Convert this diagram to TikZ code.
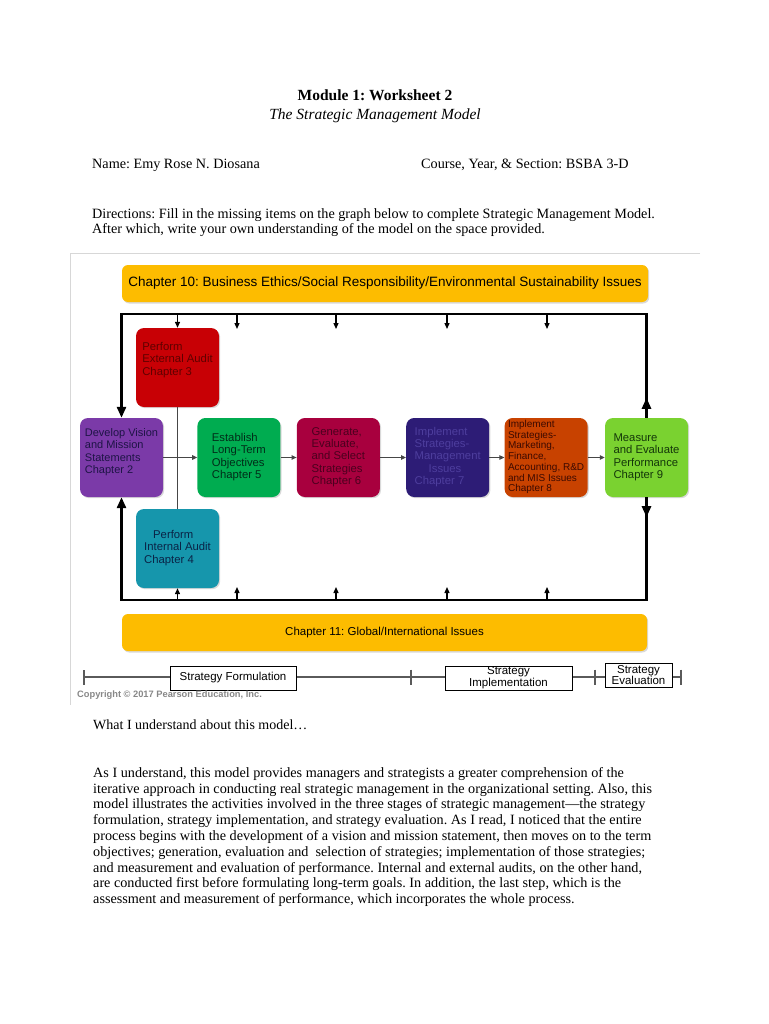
\documentclass[tikz,border=0pt]{standalone}
\usepackage{fontspec}
\setmainfont{Liberation Serif}
\newfontfamily\diagfont{Liberation Sans}
\frenchspacing
\usetikzlibrary{%
	arrows.meta,%
	positioning,%
	shadows,%
}
\tikzset{
	>=Triangle,%
	stage/.style={%
			rectangle,%
			rounded corners=8pt,%
			minimum width=83pt,%
			minimum height=79pt,%
			inner sep=0pt,%
			font={\diagfont\fontsize{11.3}{12.4}\selectfont},%
			drop shadow={opacity=0.3, shadow xshift=1.2pt, shadow yshift=-1.2pt}},%
	issuebar/.style={%
			rectangle,%
			rounded corners=6pt,%
			fill=cyellow,%
			minimum height=37pt,%
			inner sep=0pt,%
			font={\diagfont\fontsize{11.5}{13}\selectfont},%
			drop shadow={opacity=0.3, shadow xshift=1.2pt, shadow yshift=-1.5pt}},%
	phasebox/.style={%
			draw,%
			rectangle,%
			line width=0.9pt,%
			minimum height=24pt,%
			inner sep=0pt,%
			fill=white,%
			align=center,%
			font={\diagfont\fontsize{11.5}{11.7}\selectfont}},%
	loopline/.style={line width=2.6pt, black},%
	bigtip/.style={-{Triangle[length=11pt, width=9pt]}},%
	feed/.style={-{Triangle[length=6pt, width=5pt]}, line width=1.3pt, black},%
	flow/.style={-{Triangle[length=5pt, width=4.5pt]}, line width=1pt, cgrayarrow},%
	phase/.style={{Bar[width=15pt]}-{Bar[width=15pt]}, line width=1.6pt, cgrayline},%
	phasetick/.style={line width=1.6pt, cgrayline},%
	doctext/.style={inner sep=0pt, anchor=base west, font={\fontsize{14.2}{15.8}\selectfont}},%
}
\definecolor{cyellow}{RGB}{253, 188, 0}
\definecolor{cred}{RGB}{200, 0, 5}
\definecolor{credtext}{RGB}{95, 0, 0}
\definecolor{cpurple}{RGB}{123, 58, 168}
\definecolor{cpurpletext}{RGB}{30, 20, 70}
\definecolor{cgreen}{RGB}{0, 172, 80}
\definecolor{cgreentext}{RGB}{0, 45, 25}
\definecolor{ccrimson}{RGB}{168, 0, 62}
\definecolor{ccrimsontext}{RGB}{75, 0, 30}
\definecolor{cnavy}{RGB}{45, 28, 118}
\definecolor{cnavytext}{RGB}{78, 62, 158}
\definecolor{corange}{RGB}{200, 66, 0}
\definecolor{corangetext}{RGB}{60, 10, 0}
\definecolor{clime}{RGB}{122, 210, 48}
\definecolor{climetext}{RGB}{20, 55, 10}
\definecolor{cteal}{RGB}{22, 150, 172}
\definecolor{ctealtext}{RGB}{10, 35, 70}
\definecolor{cgrayarrow}{RGB}{70, 70, 70}
\definecolor{cgrayline}{RGB}{90, 90, 90}
\definecolor{cframe}{RGB}{215, 215, 215}
\definecolor{ccopy}{RGB}{135, 135, 135}
\newcommand{\stagetext}[2][0pt]{\raisebox{#1}[\height][\depth]{\begin{tabular}{@{}l@{}}#2\end{tabular}}}

\begin{document}
\begin{tikzpicture}[x=1pt, y=-1pt]
	\useasboundingbox (0,0) rectangle (768,1024);

	% worksheet header
	\node[doctext, anchor=base, font={\bfseries\fontsize{15.5}{17}\selectfont}] (title) at (375,101) {Module 1: Worksheet 2};
	\node[doctext, anchor=base, font={\itshape\fontsize{15.5}{17}\selectfont}] (subtitle) at (375,120) {The Strategic Management Model};
	\node[doctext] (name) at (92,169) {Name: Emy Rose N. Diosana};
	\node[doctext] (course) at (421,169) {Course, Year, \& Section: BSBA 3-D};
	\node[doctext, anchor=north west, align=left] (directions) at (92,208) {Directions: Fill in the missing items on the graph below to complete Strategic Management Model.\\
		After which, write your own understanding of the model on the space provided.};

	% picture frame
	\draw[cframe, line width=1pt] (700,253) -- (70,253) -- (70,705);

	% issue bars
	\node[issuebar, minimum width=526pt, font={\diagfont\fontsize{13.5}{15}\selectfont}] (ch10) at (385,283.5) {Chapter 10: Business Ethics/Social Responsibility/Environmental Sustainability Issues};
	\node[issuebar, minimum width=525pt] (ch11) at (384.5,632.5) {Chapter 11: Global/International Issues};

	% stages
	\node[stage, fill=cpurple, text=cpurpletext, font={\diagfont\fontsize{11}{12.4}\selectfont}] (dv) at (121.5,457.5) {\stagetext[5pt]{Develop Vision\\and Mission\\Statements\\Chapter 2}};
	\node[stage, fill=cgreen, text=cgreentext] (lt) [right=34pt of dv] {\stagetext{Establish\\Long-Term\\Objectives\\Chapter 5}};
	\node[stage, fill=ccrimson, text=ccrimsontext] (gs) [right=16pt of lt] {\stagetext{Generate,\\Evaluate,\\and Select\\Strategies\\Chapter 6}};
	\node[stage, fill=cnavy, text=cnavytext] (is) [right=26pt of gs] {\stagetext{Implement\\Strategies-\\Management\\\hspace*{14pt}Issues\\Chapter 7}};
	\node[stage, fill=corange, text=corangetext, font={\diagfont\fontsize{10}{10.7}\selectfont}] (if) [right=15pt of is] {\stagetext{Implement\\Strategies-\\Marketing,\\Finance,\\Accounting, R\&D\\and MIS Issues\\Chapter 8}};
	\node[stage, fill=clime, text=climetext] (me) [right=17pt of if] {\stagetext{Measure\\and Evaluate\\Performance\\Chapter 9}};
	\node[stage, fill=cred, text=credtext] (ea) at (177.5,367.5) {\stagetext[7pt]{Perform\\External Audit\\Chapter 3}};
	\node[stage, fill=cteal, text=ctealtext] (ia) at (177.5,548.5) {\stagetext{\hspace*{9pt}Perform\\Internal Audit\\Chapter 4}};

	% feedback loop
	\coordinate (tl) at (121.5,314);
	\coordinate (bl) at (121.5,600);
	\draw[loopline, bigtip] (me.north) |- (tl) -- (dv.north);
	\draw[loopline, bigtip] (me.north) -- ++(0,-20);
	\draw[loopline, bigtip] (me.south) |- (bl) -- (dv.south);
	\draw[loopline, bigtip] (me.south) -- ++(0,20);
	\draw[feed] (tl -| ea.north) -- (ea.north);
	\draw[feed] (bl -| ia.south) -- (ia.south);
	\foreach \x [count=\i] in {237,336,447,547} {
		\coordinate (in\i) at (\x,329);
		\coordinate (out\i) at (\x,587);
		\draw[feed] (tl -| in\i) -- (in\i);
		\draw[feed] (bl -| out\i) -- (out\i);
	}

	% main flow
	\draw[line width=1.2pt, cgrayarrow] (ea) -- (ia);
	\draw[flow] (dv) -- (lt);
	\draw[flow] (lt) -- (gs);
	\draw[flow] (gs) -- (is);
	\draw[flow] (is) -- (if);
	\draw[flow] (if) -- (me);

	% phases
	\coordinate (ph0) at (83,677);
	\coordinate (ph1) at (411,677);
	\coordinate (ph2) at (595,677);
	\coordinate (ph3) at (682,677);
	\draw[phase] (ph0) -- (ph3);
	\draw[phasetick] (ph1) ++(0,-7.5) -- ++(0,15);
	\draw[phasetick] (ph2) ++(0,-7.5) -- ++(0,15);
	\node[phasebox, minimum width=126pt] (sf) at (233,678) {Strategy Formulation};
	\node[phasebox, minimum width=127pt] (si) at (508.5,678) {Strategy\\Implementation};
	\node[phasebox, minimum width=67pt] (se) at (638.5,675) {Strategy\\Evaluation};
	\node[anchor=west, inner sep=0pt, text=ccopy, font={\diagfont\bfseries\fontsize{9.3}{10}\selectfont}] (copy) at (77,695) {Copyright © 2017 Pearson Education, Inc.};

	% answer
	\node[doctext, font={\fontsize{14}{15}\selectfont}] (understand) at (93,729) {What I understand about this model\ldots};
	\node[doctext, anchor=north west, align=left] (answer) at (93,767) {As I understand, this model provides managers and strategists a greater comprehension of the\\
		iterative approach in conducting real strategic management in the organizational setting. Also, this\\
		model illustrates the activities involved in the three stages of strategic management—the strategy\\
		formulation, strategy implementation, and strategy evaluation. As I read, I noticed that the entire\\
		process begins with the development of a vision and mission statement, then moves on to the term\\
		objectives; generation, evaluation and\ \ selection of strategies; implementation of those strategies;\\
		and measurement and evaluation of performance. Internal and external audits, on the other hand,\\
		are conducted first before formulating long-term goals. In addition, the last step, which is the\\
		assessment and measurement of performance, which incorporates the whole process.};
\end{tikzpicture}
\end{document}
